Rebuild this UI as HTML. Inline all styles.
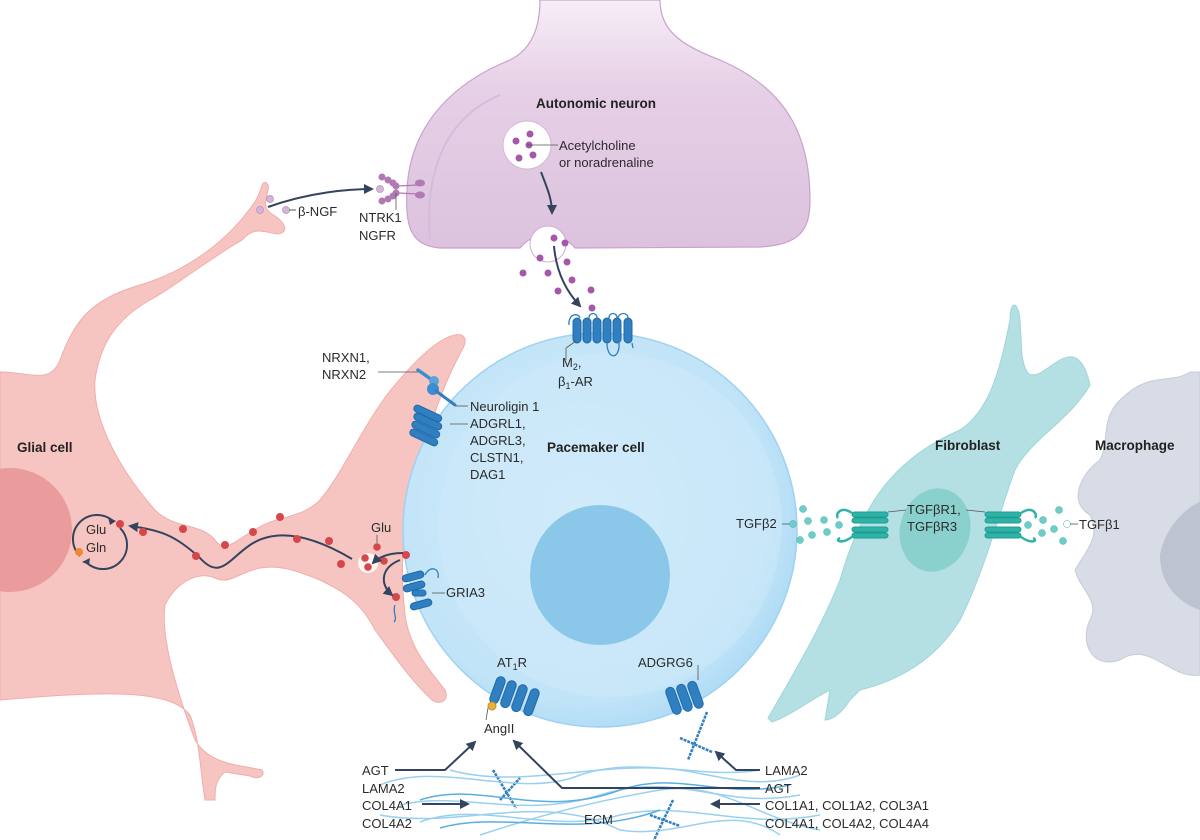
<!DOCTYPE html>
<html><head><meta charset="utf-8"><style>
html,body{margin:0;padding:0;background:#fff}
svg{display:block}
text{font-family:"Liberation Sans",sans-serif;fill:#2b2b2b;font-size:13px}
.b{font-weight:bold;font-size:13.5px;fill:#222}
</style></head><body>
<svg width="1200" height="840" viewBox="0 0 1200 840" xmlns="http://www.w3.org/2000/svg">
<defs>
<linearGradient id="pg" x1="0" y1="0" x2="0" y2="1"><stop offset="0" stop-color="#f7eef7"/><stop offset="0.35" stop-color="#e6d0e6"/><stop offset="1" stop-color="#dcc2de"/></linearGradient>
<radialGradient id="bg" cx="0.45" cy="0.45" r="0.6"><stop offset="0" stop-color="#d3ecfb"/><stop offset="0.8" stop-color="#c2e4f8"/><stop offset="1" stop-color="#a9d9f5"/></radialGradient>
<marker id="ar" viewBox="0 0 10 10" refX="8" refY="5" markerWidth="5" markerHeight="5" orient="auto"><path d="M0,0 L10,5 L0,10 z" fill="#34445e"/></marker>
</defs>

<!-- Macrophage -->
<path d="M1120,400 C1150,370 1170,385 1190,372 L1200,372 L1200,675 C1170,680 1150,640 1120,660 C1090,670 1080,640 1090,620 C1100,600 1080,590 1075,570 C1090,545 1100,535 1090,515 C1065,500 1085,470 1100,460 C1110,440 1100,420 1120,400 Z" fill="#d8dce6" stroke="#c6cbd7"/>
<path d="M1160,555 C1165,525 1190,505 1200,502 L1200,610 C1185,605 1160,590 1160,555Z" fill="#bec3d1"/>

<!-- Fibroblast -->
<path d="M768,718 C790,680 820,630 840,580 C860,510 890,460 960,430 C990,410 1000,370 1010,320 C1010,300 1018,300 1020,320 L1022,355 C1025,375 1030,380 1045,370 C1060,360 1080,340 1090,385 C1070,420 1030,440 1015,470 C1000,510 985,570 960,620 C935,660 900,680 860,690 L850,700 C840,716 830,720 825,720 L830,690 C810,700 790,716 772,722 Z" fill="#b4e0e3" stroke="#9fd6d9"/>
<ellipse cx="935" cy="530" rx="35" ry="42" fill="#8ad0cd" transform="rotate(15 935 530)"/>

<!-- Glial cell -->
<path d="M0,372 C30,372 50,385 60,360 C75,320 90,300 140,285 C190,270 225,240 245,215 C252,206 258,200 262,185 C264,180 270,183 268,190 C266,200 262,208 272,214 C285,222 290,232 278,234 C265,233 255,225 242,240 C200,265 170,290 150,300 C115,320 100,345 95,380 C92,420 120,470 155,510 C175,530 200,522 215,540 C225,555 235,540 255,530 C275,515 300,520 320,500 C345,470 365,420 395,385 C420,355 440,338 455,335 C465,333 468,340 462,350 C440,390 425,440 412,490 C402,530 400,570 405,615 C410,650 430,670 445,690 C450,700 440,706 432,700 C410,680 390,650 375,630 C360,600 340,590 320,580 C295,570 280,565 260,568 C240,572 230,585 215,578 C195,570 175,585 165,605 C160,640 180,700 195,740 C210,765 240,765 262,770 C266,776 258,780 250,776 L225,772 C215,780 215,790 215,800 L205,800 C200,770 200,740 190,715 C170,690 110,690 0,700 Z" fill="#f7c5c1" stroke="#f0aeab"/>
<circle cx="10" cy="530" r="62" fill="#ea9b9b"/>

<!-- Autonomic neuron -->
<path d="M540,0 L660,0 C660,30 680,45 720,60 C790,90 810,140 810,200 C810,230 800,245 760,247 L575,248 C560,230 535,230 520,248 L440,248 C410,246 405,225 407,190 C410,120 460,80 510,60 C530,50 540,30 540,0 Z" fill="url(#pg)" stroke="#c9a2cc" stroke-width="1.2"/>
<path d="M430,240 C425,180 440,120 500,95" fill="none" stroke="#d8bad9" stroke-width="2"/>
<circle cx="548" cy="244" r="18" fill="#fff" stroke="#d0aed2"/>
<circle cx="527" cy="145" r="24" fill="#fff" stroke="#d4b8d6"/>
<g fill="#a558a8">
<circle cx="516" cy="141" r="3.5"/><circle cx="530" cy="134" r="3.5"/><circle cx="529" cy="145" r="3.5"/><circle cx="519" cy="158" r="3.5"/><circle cx="533" cy="155" r="3.5"/>
<circle cx="554" cy="238" r="3.5"/><circle cx="565" cy="243" r="3.5"/><circle cx="540" cy="258" r="3.5"/><circle cx="567" cy="262" r="3.5"/><circle cx="523" cy="273" r="3.5"/><circle cx="548" cy="273" r="3.5"/><circle cx="572" cy="280" r="3.5"/><circle cx="558" cy="291" r="3.5"/><circle cx="591" cy="290" r="3.5"/><circle cx="592" cy="308" r="3.5"/>
</g>
<line x1="527" y1="145" x2="558" y2="145" stroke="#555" stroke-width="0.8"/>
<text x="559" y="150">Acetylcholine</text>
<text x="559" y="167">or noradrenaline</text>
<text x="536" y="108" class="b">Autonomic neuron</text>
<path d="M541,172 C548,190 552,200 552,213" fill="none" stroke="#34445e" stroke-width="2" marker-end="url(#ar)"/>
<path d="M554,246 C556,270 565,290 580,306" fill="none" stroke="#34445e" stroke-width="2" marker-end="url(#ar)"/>

<!-- NGF -->
<g fill="#d6b3d8" stroke="#b98bbb" stroke-width="0.7"><circle cx="270" cy="199" r="3.5"/><circle cx="260" cy="210" r="3.5"/><circle cx="286" cy="210" r="3.5"/><circle cx="380" cy="189" r="3.5"/></g>
<path d="M268,207 C310,192 350,189 372,189" fill="none" stroke="#34445e" stroke-width="2" marker-end="url(#ar)"/>
<line x1="289" y1="210" x2="296" y2="210" stroke="#555"/>
<text x="298" y="216">β-NGF</text>
<g fill="#b279b4"><circle cx="382" cy="177" r="3.5"/><circle cx="388" cy="180" r="3.5"/><circle cx="393" cy="183" r="3.5"/><circle cx="396" cy="186" r="3.5"/><circle cx="382" cy="201" r="3.5"/><circle cx="388" cy="199" r="3.5"/><circle cx="393" cy="196" r="3.5"/><circle cx="396" cy="193" r="3.5"/></g>
<line x1="398" y1="186" x2="418" y2="185" stroke="#b279b4" stroke-width="1.2"/><line x1="398" y1="193" x2="418" y2="194" stroke="#b279b4" stroke-width="1.2"/>
<ellipse cx="420" cy="183" rx="5" ry="3.5" fill="#b279b4"/><ellipse cx="420" cy="195" rx="5" ry="3.5" fill="#b279b4"/>
<line x1="396" y1="193" x2="396" y2="210" stroke="#555" stroke-width="0.8"/>
<text x="359" y="222">NTRK1</text><text x="359" y="240">NGFR</text>

<!-- Pacemaker cell -->
<circle cx="600" cy="530" r="197" fill="url(#bg)" stroke="#9fd2f0" stroke-width="1.5"/>
<circle cx="610" cy="525" r="172" fill="#cde9fa" opacity="0.5"/>
<circle cx="600" cy="575" r="70" fill="#8bc7e8"/>
<text x="547" y="452" class="b">Pacemaker cell</text>

<!-- M2 receptor -->
<g fill="#2f7fc1" stroke="#1f6aa8" stroke-width="1">
<rect x="573" y="318" width="8" height="25" rx="4"/><rect x="583" y="318" width="8" height="25" rx="4"/><rect x="593" y="318" width="8" height="25" rx="4"/><rect x="603" y="318" width="8" height="25" rx="4"/><rect x="613" y="318" width="8" height="25" rx="4"/><rect x="624" y="318" width="8" height="25" rx="4"/>
</g>
<path d="M569,325 C568,314 578,312 580,318 M589,318 C589,312 597,312 597,318 M609,318 C609,312 617,312 617,318 M618,318 C619,312 628,312 628,318 M607,343 C607,360 620,360 619,343 M632,343 L633,348" fill="none" stroke="#2f7fc1" stroke-width="1.3"/>
<line x1="576" y1="341" x2="566" y2="348" stroke="#555" stroke-width="0.8"/><line x1="566" y1="348" x2="566" y2="360" stroke="#555" stroke-width="0.8"/>
<text x="562" y="367">M<tspan font-size="9" dy="3">2</tspan><tspan dy="-3">,</tspan></text>
<text x="558" y="386">β<tspan font-size="9" dy="3">1</tspan><tspan dy="-3">-AR</tspan></text>

<!-- NRXN / neuroligin -->
<line x1="418" y1="370" x2="435" y2="382" stroke="#3b8ed0" stroke-width="3.5" stroke-linecap="round"/>
<circle cx="434" cy="381" r="5" fill="#5aa3da"/><circle cx="433" cy="389" r="6" fill="#3b8ed0"/>
<line x1="436" y1="391" x2="455" y2="405" stroke="#2f7fc1" stroke-width="3" stroke-linecap="round"/>
<line x1="378" y1="372" x2="418" y2="372" stroke="#555" stroke-width="0.8"/>
<text x="322" y="362">NRXN1,</text><text x="322" y="379">NRXN2</text>
<line x1="456" y1="406" x2="468" y2="406" stroke="#555" stroke-width="0.8"/>
<text x="470" y="411">Neuroligin 1</text>
<g fill="#2f7fc1" stroke="#1f6aa8"><rect x="413" y="410" width="30" height="7" rx="3.5" transform="rotate(25 428 413)"/><rect x="413" y="418" width="30" height="7" rx="3.5" transform="rotate(25 428 421)"/><rect x="411" y="426" width="30" height="7" rx="3.5" transform="rotate(25 426 429)"/><rect x="409" y="434" width="30" height="7" rx="3.5" transform="rotate(25 424 437)"/></g>
<line x1="450" y1="424" x2="468" y2="424" stroke="#555" stroke-width="0.8"/>
<text x="470" y="428">ADGRL1,</text><text x="470" y="445">ADGRL3,</text><text x="470" y="462">CLSTN1,</text><text x="470" y="479">DAG1</text>

<!-- Glu cycle -->
<path d="M114,522 A24,24 0 0 0 80,556 M86,562 A24,24 0 0 0 120,528" fill="none" stroke="#34445e" stroke-width="2"/>
<path d="M108,517 l8,4 -6,4z M90,558 l-8,4 7,3z" fill="#34445e"/>
<circle cx="120" cy="524" r="4" fill="#d6474b"/><circle cx="79" cy="552" r="4" fill="#f0882e"/>
<text x="86" y="534">Glu</text><text x="86" y="552">Gln</text>
<path d="M352,559 C320,540 280,525 250,545 C228,560 220,580 200,558 C175,535 160,530 130,526" fill="none" stroke="#34445e" stroke-width="2" marker-end="url(#ar)"/>
<g fill="#d6474b"><circle cx="143" cy="532" r="4"/><circle cx="183" cy="529" r="4"/><circle cx="196" cy="556" r="4"/><circle cx="225" cy="545" r="4"/><circle cx="253" cy="532" r="4"/><circle cx="280" cy="517" r="4"/><circle cx="297" cy="539" r="4"/><circle cx="329" cy="541" r="4"/><circle cx="341" cy="564" r="4"/><circle cx="406" cy="555" r="4"/><circle cx="396" cy="597" r="4"/></g>
<circle cx="368" cy="563" r="10" fill="#fff" opacity="0.8"/>
<g fill="#d6474b"><circle cx="365" cy="558" r="3.8"/><circle cx="368" cy="567" r="3.8"/><circle cx="377" cy="547" r="3.8"/><circle cx="384" cy="561" r="3.8"/></g>
<line x1="377" y1="535" x2="377" y2="543" stroke="#555" stroke-width="0.8"/>
<text x="371" y="532">Glu</text>
<path d="M403,553 C390,553 380,556 373,563" fill="none" stroke="#34445e" stroke-width="2" marker-end="url(#ar)"/>
<path d="M400,560 C380,568 380,585 392,595" fill="none" stroke="#34445e" stroke-width="2" marker-end="url(#ar)"/>
<g fill="#2f7fc1" stroke="#1f6aa8"><rect x="402" y="573" width="22" height="7" rx="3.5" transform="rotate(-15 413 576)"/><rect x="403" y="583" width="22" height="7" rx="3.5" transform="rotate(-15 414 586)"/><rect x="412" y="590" width="14" height="6" rx="3"/><rect x="410" y="601" width="22" height="7" rx="3.5" transform="rotate(-15 421 604)"/></g>
<path d="M425,575 C430,565 440,568 438,578 M395,605 C392,612 398,618 394,622" fill="none" stroke="#2f7fc1" stroke-width="1.3"/>
<line x1="432" y1="593" x2="445" y2="593" stroke="#555" stroke-width="0.8"/>
<text x="446" y="597">GRIA3</text>

<!-- TGFb -->
<text x="736" y="528">TGFβ2</text>
<line x1="782" y1="524" x2="790" y2="524" stroke="#555" stroke-width="0.8"/>
<g fill="#6fcdc7" stroke="#3fb3ac" stroke-width="0.5"><circle cx="793" cy="524" r="3.5"/><circle cx="803" cy="509" r="3.5"/><circle cx="808" cy="521" r="3.5"/><circle cx="800" cy="540" r="3.5"/><circle cx="812" cy="535" r="3.5"/><circle cx="824" cy="520" r="3.5"/><circle cx="827" cy="532" r="3.5"/><circle cx="839" cy="525" r="3.5"/>
<circle cx="1028" cy="525" r="3.5"/><circle cx="1043" cy="520" r="3.5"/><circle cx="1054" cy="529" r="3.5"/><circle cx="1059" cy="510" r="3.5"/><circle cx="1042" cy="533" r="3.5"/><circle cx="1063" cy="541" r="3.5"/><circle cx="1067" cy="524" r="3.5" fill="#fff"/></g>
<g fill="#2fb3a8" stroke="#1f9c92"><rect x="852" y="512" width="36" height="5" rx="2.5"/><rect x="852" y="518" width="36" height="5" rx="2.5"/><rect x="852" y="527" width="36" height="5" rx="2.5"/><rect x="852" y="533" width="36" height="5" rx="2.5"/>
<rect x="985" y="512" width="36" height="5" rx="2.5"/><rect x="985" y="518" width="36" height="5" rx="2.5"/><rect x="985" y="527" width="36" height="5" rx="2.5"/><rect x="985" y="533" width="36" height="5" rx="2.5"/></g>
<path d="M852,513 C840,505 835,515 838,518 M852,537 C840,545 835,540 840,538 M1021,513 C1033,505 1038,515 1035,518 M1021,537 C1033,545 1038,540 1033,538" fill="none" stroke="#2fb3a8" stroke-width="2.5"/>
<line x1="888" y1="512" x2="906" y2="510" stroke="#555" stroke-width="0.8"/><line x1="966" y1="510" x2="985" y2="512" stroke="#555" stroke-width="0.8"/>
<text x="907" y="514">TGFβR1,</text><text x="907" y="531">TGFβR3</text>
<line x1="1070" y1="524" x2="1078" y2="524" stroke="#555" stroke-width="0.8"/>
<text x="1079" y="529">TGFβ1</text>
<text x="935" y="450" class="b">Fibroblast</text>
<text x="1095" y="450" class="b">Macrophage</text>
<text x="17" y="452" class="b">Glial cell</text>

<!-- AT1R -->
<g fill="#2f7fc1" stroke="#1f6aa8"><rect x="493" y="676" width="9" height="28" rx="4.5" transform="rotate(20 497 690)"/><rect x="504" y="680" width="9" height="28" rx="4.5" transform="rotate(20 508 694)"/><rect x="515" y="684" width="9" height="28" rx="4.5" transform="rotate(20 519 698)"/><rect x="527" y="688" width="9" height="28" rx="4.5" transform="rotate(20 531 702)"/></g>
<circle cx="492" cy="706" r="4" fill="#e8b13c" stroke="#c89020"/>
<line x1="488" y1="708" x2="486" y2="720" stroke="#555" stroke-width="0.8"/>
<text x="497" y="667">AT<tspan font-size="9" dy="3">1</tspan><tspan dy="-3">R</tspan></text>
<text x="484" y="733">AngII</text>
<!-- ADGRG6 -->
<g fill="#2f7fc1" stroke="#1f6aa8"><rect x="669" y="687" width="9" height="28" rx="4.5" transform="rotate(-20 673 701)"/><rect x="680" y="684" width="9" height="28" rx="4.5" transform="rotate(-20 684 698)"/><rect x="691" y="681" width="9" height="28" rx="4.5" transform="rotate(-20 695 695)"/></g>
<line x1="698" y1="665" x2="698" y2="680" stroke="#555" stroke-width="0.8"/>
<text x="638" y="667">ADGRG6</text>
<g stroke="#2f7fc1" stroke-width="2.5" stroke-dasharray="3 1" fill="none"><path d="M707,712 L688,760"/><path d="M680,738 L712,752"/>
<path d="M493,770 L516,808"/><path d="M500,800 L520,778"/><path d="M673,800 L654,840"/><path d="M650,815 L680,826"/></g>

<!-- ECM -->
<g fill="none" stroke="#8fcbee" stroke-width="1.5" opacity="0.9">
<path d="M380,785 C440,760 520,800 580,775 C640,755 700,780 760,770"/>
<path d="M400,805 C460,790 520,820 600,795 C680,770 720,810 800,795"/>
<path d="M420,822 C480,800 550,835 620,815 C690,800 740,830 820,815"/>
<path d="M450,770 C520,790 600,760 680,770 C720,776 760,790 800,775"/>
<path d="M380,815 C460,830 540,790 620,830 C680,840 730,800 780,835"/>
<path d="M480,835 C540,815 600,800 660,790 C720,780 760,820 820,830"/>
</g>
<g fill="none" stroke="#5aaee0" stroke-width="1.5"><path d="M420,800 C480,780 540,820 620,790 C680,770 720,800 790,785"/><path d="M440,828 C500,810 580,840 660,810"/></g>
<text x="584" y="824">ECM</text>

<!-- arrows bottom -->
<g fill="none" stroke="#34445e" stroke-width="2"><path d="M395,770 L445,770 L475,742" marker-end="url(#ar)"/><path d="M422,804 L468,804" marker-end="url(#ar)"/><path d="M760,788 L562,788 L514,741" marker-end="url(#ar)"/><path d="M760,770 L736,770 L716,752" marker-end="url(#ar)"/><path d="M760,804 L712,804" marker-end="url(#ar)"/></g>
<text x="362" y="775">AGT</text><text x="362" y="793">LAMA2</text><text x="362" y="810">COL4A1</text><text x="362" y="828">COL4A2</text>
<text x="765" y="775">LAMA2</text><text x="765" y="793">AGT</text><text x="765" y="810">COL1A1, COL1A2, COL3A1</text><text x="765" y="828">COL4A1, COL4A2, COL4A4</text>
</svg>
</body></html>
